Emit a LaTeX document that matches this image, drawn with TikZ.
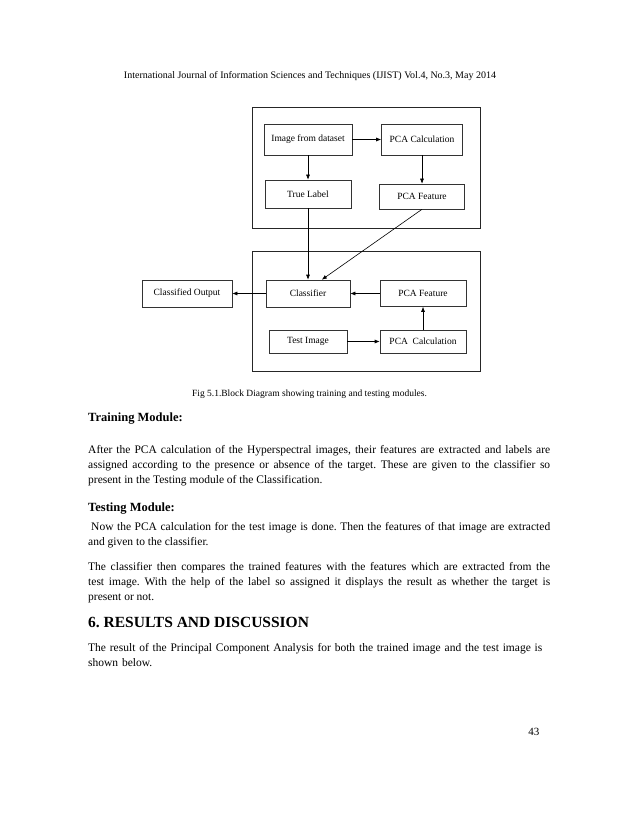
\documentclass[tikz,border=0pt]{standalone}
\usepackage{fontspec}
\setmainfont{Liberation Serif}
\usetikzlibrary{positioning,arrows.meta}
\frenchspacing

\tikzset{
  blk/.style={draw=black!80, line width=0.6pt, inner sep=1pt, font=\fontsize{9.5}{11}\selectfont},
  frame/.style={draw=black!85, line width=0.8pt, inner sep=0pt},
  para/.style={anchor=base west, inner sep=0pt, text width=462pt, align=justify, font=\fontsize{11.5}{15.3}\selectfont},
  plain/.style={para, align=left},
  head/.style={anchor=base west, inner sep=0pt, font=\bfseries\fontsize{12.5}{15}\selectfont},
}

\begin{document}
\begin{tikzpicture}[x=1pt, y=-1pt, node distance=2cm, on grid, >={Latex[length=5pt,width=4pt]}]
	\fill[white] (0,0) rectangle (638,826);
	\useasboundingbox (0,0) rectangle (638,826);

	\node[anchor=base, font=\fontsize{10}{12}\selectfont] (hdr) at (310,79) {International Journal of Information Sciences and Techniques (IJIST) Vol.4, No.3, May 2014};

	% training and testing frames
	\node[frame, minimum width=228pt, minimum height=121pt] (train) at (366,167.5) {};
	\node[frame, minimum width=228pt, minimum height=120pt] (test) at (366,311) {};

	% blocks
	\node[blk, minimum width=88pt, minimum height=31pt] (img) at (308,139.5) {Image from dataset};
	\node[blk, minimum width=81pt, minimum height=31pt] (calcA) [right=114pt of img] {PCA Calculation};
	\node[blk, minimum width=86pt, minimum height=28pt] (lbl) [below=54.5pt of img] {True Label};
	\node[blk, minimum width=85pt, minimum height=25pt] (featA) [below=57pt of calcA] {PCA Feature};
	\node[blk, minimum width=84pt, minimum height=27pt] (clf) [below=99.5pt of lbl] {Classifier};
	\node[blk, minimum width=86pt, minimum height=26pt] (featB) [right=115pt of clf] {PCA Feature};
	\node[blk, minimum width=78pt, minimum height=23pt] (timg) [below=48pt of clf] {Test Image};
	\node[blk, minimum width=86pt, minimum height=23pt] (calcB) [right=115pt of timg] {PCA\ \ Calculation};
	\node[blk, minimum width=90pt, minimum height=27pt] (out) [left=121pt of clf] {Classified Output};

	\path[->, line width=0.6pt]
	(img) edge (calcA)
		edge (lbl)
	(calcA) edge (featA)
	(lbl) edge (clf)
	(featA.south) edge (clf.45)
	(featB) edge (clf)
	(clf) edge (out)
	(timg) edge (calcB)
	(calcB) edge (featB);

	\node[anchor=base, font=\fontsize{9.5}{11}\selectfont] (cap) at (309.5,396) {Fig 5.1.Block Diagram showing training and testing modules.};

	% text of the page
	\node[head] (trainhd) at (88,421) {Training Module:};
	\node[para] (trainpar) at (88,453) {After the PCA calculation of the Hyperspectral images, their features are extracted and labels are\linebreak assigned according to the presence or absence of the target. These are given to the classifier so\linebreak present in the Testing module of the Classification.};
	\node[head] (testhd) at (88,511) {Testing Module:};
	\node[para] (testpar) at (88,530) {\hspace*{3pt}Now the PCA calculation for the test image is done. Then the features of that image are extracted\linebreak and given to the classifier.};
	\node[para] (clfpar) at (88,570) {The classifier then compares the trained features with the features which are extracted from the\linebreak test image. With the help of the label so assigned it displays the result as whether the target is\linebreak present or not.};
	\node[head, font=\bfseries\fontsize{15.5}{18}\selectfont] (reshd) at (88,627) {6. RESULTS AND DISCUSSION};
	\node[plain] (respar) at (88,651) {The result of the Principal Component Analysis for both the trained image and the test image is\\ shown below.};
	\node[anchor=base east, font=\fontsize{11}{13}\selectfont] (pgno) at (543,735) {43};
\end{tikzpicture}
\end{document}
